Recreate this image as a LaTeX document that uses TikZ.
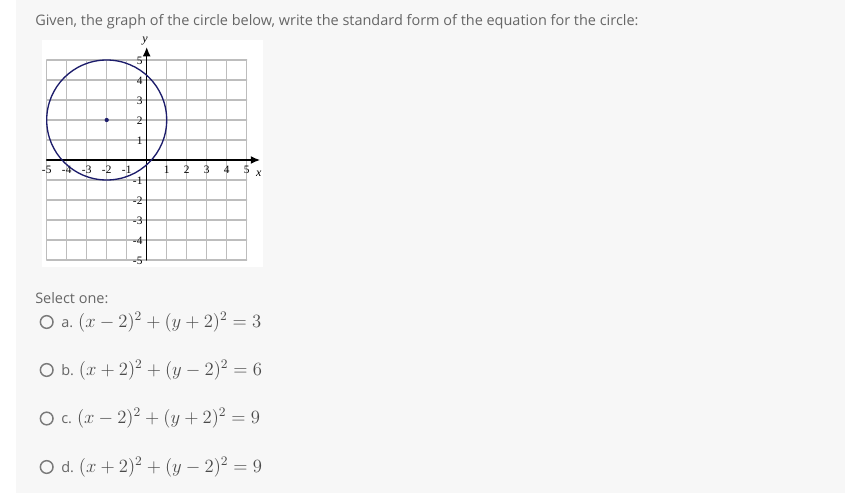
\RequirePackage{fix-cm}
\documentclass[tikz,border=0pt]{standalone}
\usepackage[no-math]{fontspec}
\usetikzlibrary{arrows.meta}
\newfontfamily\opensans{Open Sans}
\newfontfamily\tickfont{Liberation Serif}
\definecolor{panelgray}{HTML}{F7F7F7}
\definecolor{textgray}{HTML}{666666}
\definecolor{mathgray}{HTML}{4A4A4A}
\definecolor{radiogray}{HTML}{7A7A7A}
\definecolor{gridgray}{HTML}{BDBDBD}
\definecolor{circnavy}{HTML}{1C1C6B}
\newcommand{\optmath}[1]{{\color{mathgray}\fontsize{14}{16}\selectfont$#1$}}

\begin{document}
\begin{tikzpicture}[x=0.75pt, y=-0.75pt, line cap=round, line join=round,
	txt/.style={font=\opensans\fontsize{10.85}{13}\selectfont, text=textgray, inner sep=0pt, anchor=west},
	radio/.style={circle, draw=radiogray, line width=1.1pt, minimum size=9.5pt, inner sep=0pt},
	tick/.style={font=\tickfont\fontsize{8.5}{10}\selectfont, inner sep=0pt}]
	\useasboundingbox (0,0) rectangle (845,493);
	\fill[white] (0,0) rectangle (845,493);
	\fill[panelgray] (16,0) rectangle (845,493);
	\fill[white] (42,40) rectangle (263,267);
	\node[txt] (question) at (35,22) {Given, the graph of the circle below, write the standard form of the equation for the circle:};
	% the graph, 20px per unit
	\begin{scope}[shift={(146.7,160)}, x=15pt, y=15pt]
	\draw[gridgray, line width=0.9pt, step=1] (-5,-5) grid (5,5);
	\coordinate (xend) at (5.67,0);
	\coordinate (yend) at (0,5.65);
	\draw[-{Latex[length=7pt,width=6pt]}, line width=1.1pt] (-5,0) -- (xend);
	\draw[-{Latex[length=7pt,width=6pt]}, line width=1.1pt] (0,-5) -- (yend);
	\node[tick, font=\tickfont\itshape\fontsize{9}{10}\selectfont] (xlab) at (5.6,-0.7) {x};
	\node[tick, font=\tickfont\itshape\fontsize{9}{10}\selectfont] (ylab) at (-0.08,5.95) {y};
	\foreach \i in {-5,...,-1,1,2,3,4,5}{
		\node[tick] (xt\i) at (\i,-0.5) {\i};
		\node[tick, anchor=east] (yt\i) at (-0.2,\i-0.04) {\i};
	}
	\draw[circnavy, line width=1pt] (-2,2) circle (3);
	\fill[circnavy] (-2,2) circle (1.6pt);
	\end{scope}
	% answers
	\node[txt] (select) at (35,298) {Select one:};
	\node[radio] (ra) at (46.7,322) {};
	\node[radio] (rb) at (46.7,370) {};
	\node[radio] (rc) at (46.7,418.5) {};
	\node[radio] (rd) at (46.7,467) {};
	\node[txt] (oa) at (61,322) {a. \optmath{(x-2)^2+(y+2)^2=3}};
	\node[txt] (ob) at (61,370) {b. \optmath{(x+2)^2+(y-2)^2=6}};
	\node[txt] (oc) at (61,418.5) {c. \optmath{(x-2)^2+(y+2)^2=9}};
	\node[txt] (od) at (61,467) {d. \optmath{(x+2)^2+(y-2)^2=9}};
\end{tikzpicture}
\end{document}
